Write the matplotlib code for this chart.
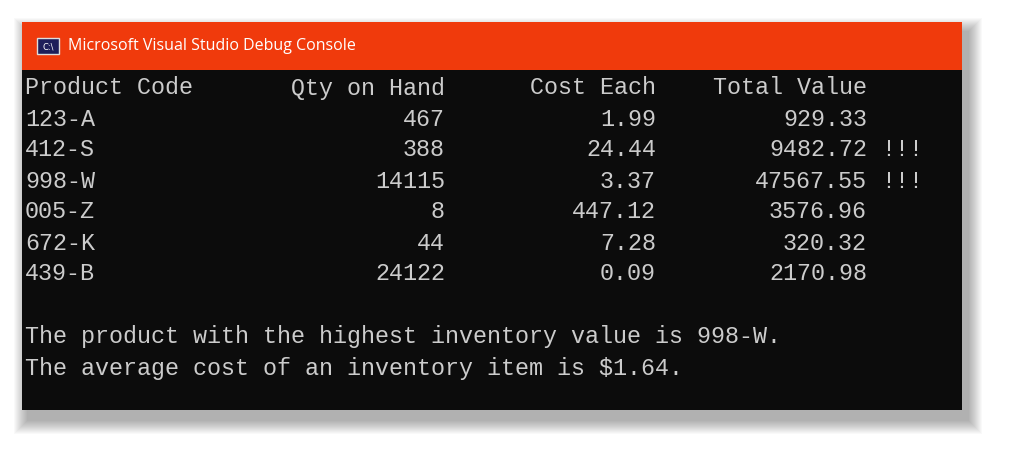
import matplotlib
matplotlib.use("Agg")
import matplotlib.pyplot as plt
from matplotlib.patches import Rectangle

codes = ["123-A", "412-S", "998-W", "005-Z", "672-K", "439-B"]
qty = ["467", "388", "14115", "8", "44", "24122"]
cost = ["1.99", "24.44", "3.37", "447.12", "7.28", "0.09"]
total = ["929.33", "9482.72", "47567.55", "3576.96", "320.32", "2170.98"]
flags = ["", "!!!", "!!!", "", "", ""]
headers = ["Product Code", "Qty on Hand", "Cost Each", "Total Value"]
footer = ["The product with the highest inventory value is 998-W.",
          "The average cost of an inventory item is $1.64."]
title = "Microsoft Visual Studio Debug Console"

fig = plt.figure(figsize=(10.16, 4.66), dpi=100)
ax = fig.add_axes([0, 0, 1, 1])
ax.set_xlim(0, 1016); ax.set_ylim(466, 0); ax.axis("off")
fig.patch.set_facecolor("white")

# shadow
for i in range(14, 0, -1):
    ax.add_patch(Rectangle((22 - i + 6, 22 - i + 10), 940 + 2 * i, 388 + 2 * i,
                           color="black", alpha=0.025, lw=0))
ax.add_patch(Rectangle((22, 22), 940, 48, color="#F03A0C", lw=0))
ax.add_patch(Rectangle((22, 70), 940, 340, color="#0C0C0C", lw=0))
# icon
ax.add_patch(Rectangle((37, 38), 22, 16, facecolor="#1E1E5A", edgecolor="#DDDDDD", lw=1))
ax.text(48, 46.5, "C:\\", color="white", fontsize=6, ha="center", va="center", family="DejaVu Sans")
ax.text(68, 46, title, color="white", fontsize=11.5, va="center", family="Open Sans")

fs = 16.8
col = "#CCCCCC"
mono = "Liberation Mono"
def t(x, y, s, ha="left"):
    ax.text(x, y, s, color=col, fontsize=fs, family=mono, ha=ha, va="center")

y0, dy = 88, 31
t(25, y0, headers[0]); t(445, y0, headers[1], "right")
t(656, y0, headers[2], "right"); t(867, y0, headers[3], "right")
for i in range(len(codes)):
    y = y0 + dy * (i + 1)
    t(25, y, codes[i]); t(445, y, qty[i], "right")
    t(656, y, cost[i], "right"); t(867, y, total[i], "right")
    if flags[i]:
        t(881, y, flags[i])
t(25, 337, footer[0]); t(25, 368, footer[1])
fig.savefig("out.png", dpi=100)
